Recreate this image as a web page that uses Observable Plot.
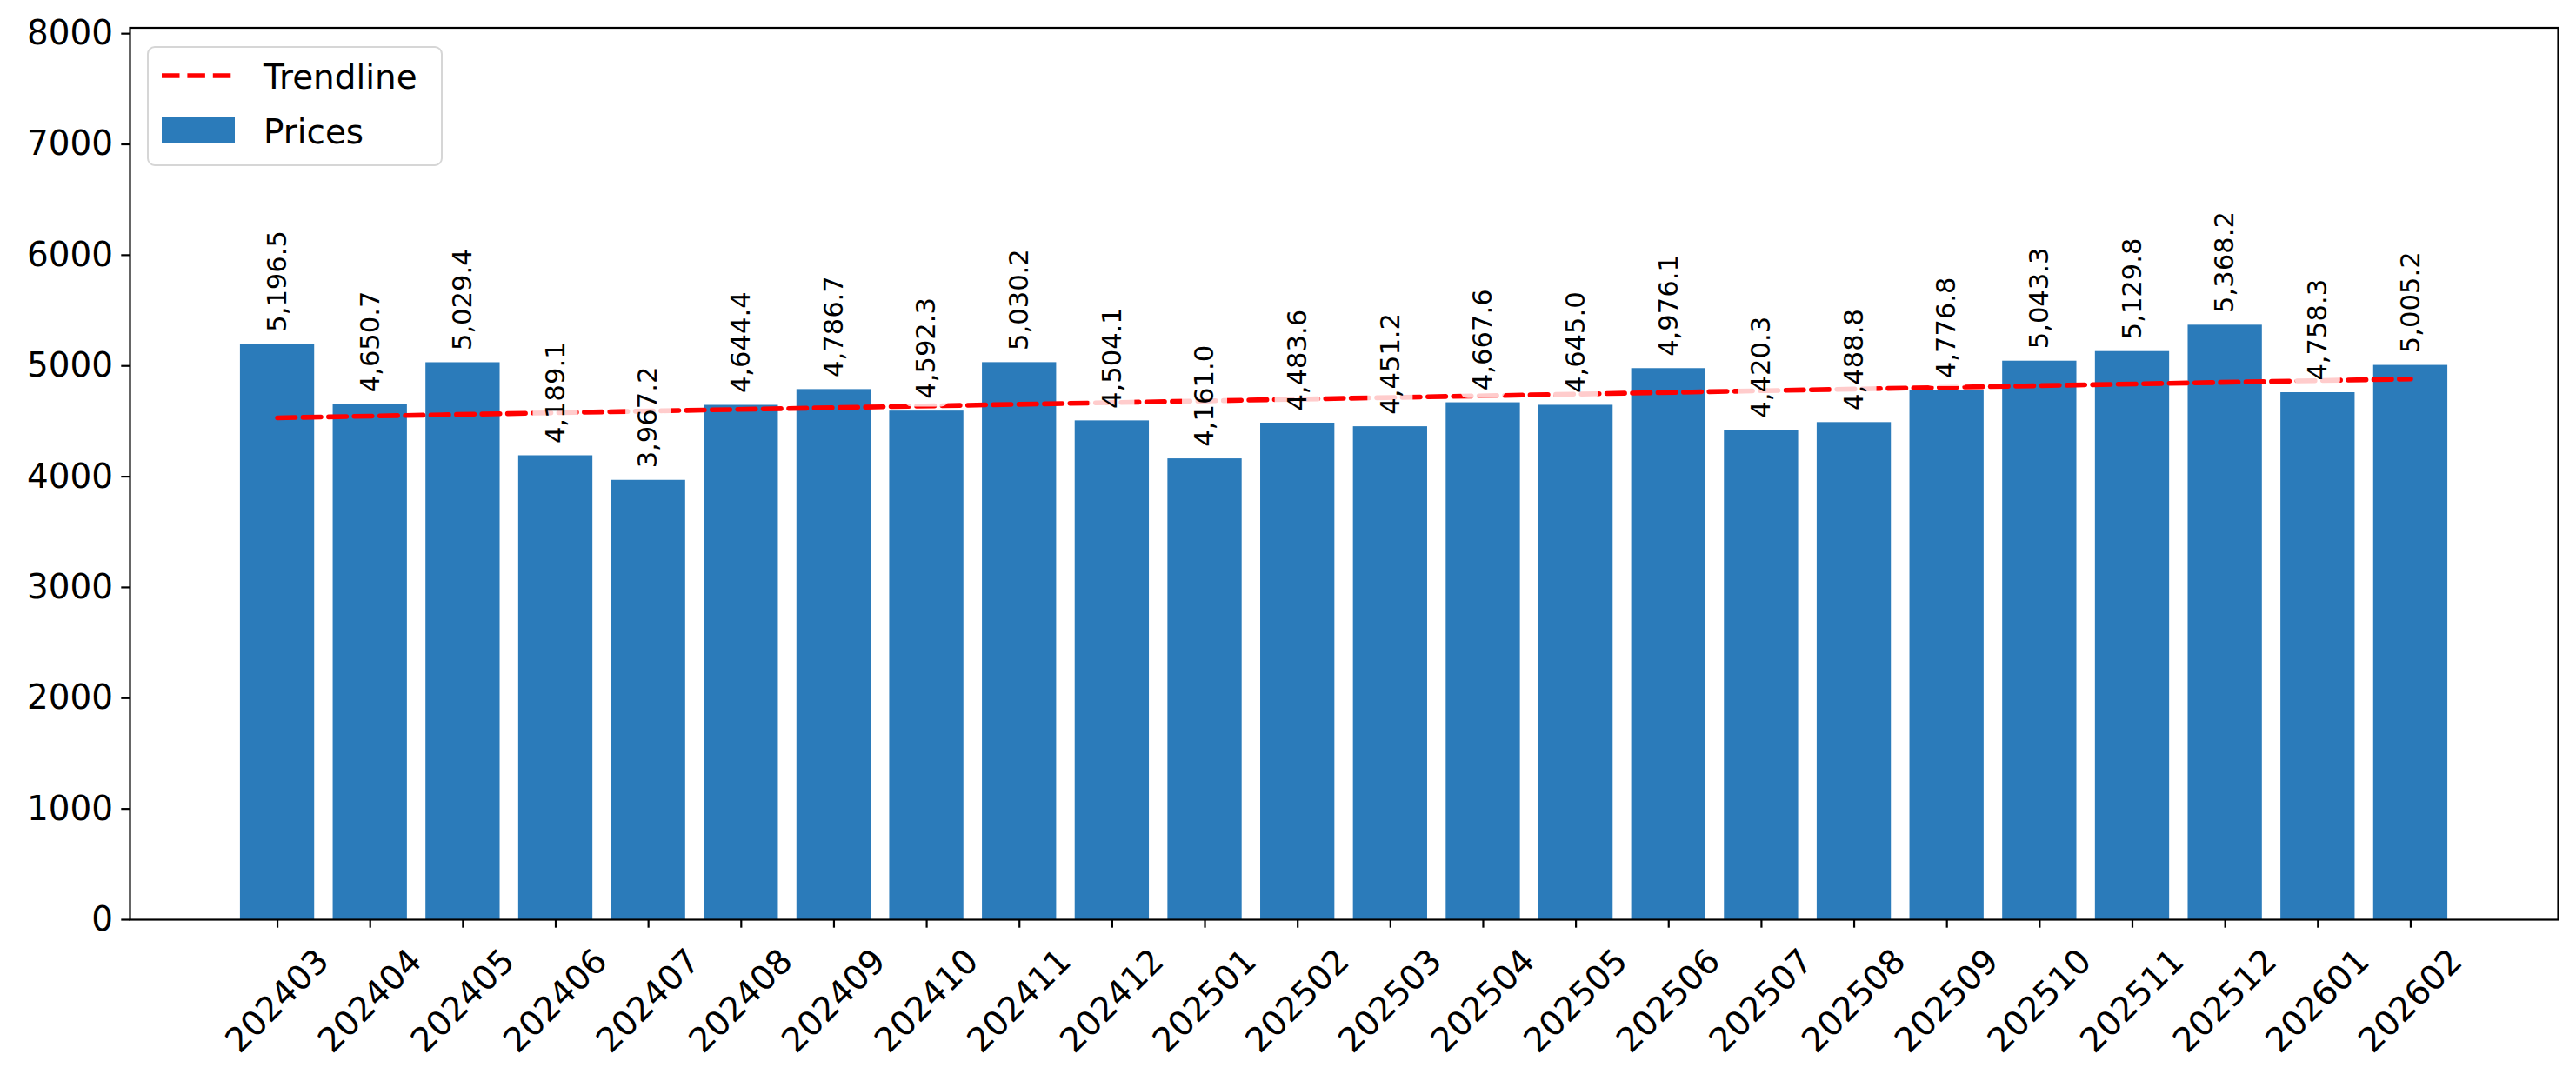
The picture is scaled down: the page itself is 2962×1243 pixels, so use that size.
<!DOCTYPE html>
<html>
<head>
<meta charset="utf-8">
<script src="https://cdn.jsdelivr.net/npm/d3@7"></script>
<script src="https://cdn.jsdelivr.net/npm/@observablehq/plot@0.6"></script>
<style>
  html, body { margin: 0; padding: 0; background: #fff; }
  #wrap { position: relative; width: 2962px; height: 1243px; font-family: "DejaVu Sans", sans-serif; }
  #legend { position: absolute; left: 169px; top: 53px; width: 336px; height: 134px;
            border: 2.2px solid #d6d6d6; border-radius: 9px; background: rgba(255,255,255,0.8); }
  #legend svg { position: absolute; left: 0; top: 0; overflow: visible; }
</style>
</head>
<body>
<div id="wrap"></div>
<script>
const months = ["202403","202404","202405","202406","202407","202408","202409","202410","202411","202412",
                "202501","202502","202503","202504","202505","202506","202507","202508","202509","202510",
                "202511","202512","202601","202602"];
const prices = [5196.5,4650.7,5029.4,4189.1,3967.2,4644.4,4786.7,4592.3,5030.2,4504.1,
                4161.0,4483.6,4451.2,4667.6,4645.0,4976.1,4420.3,4488.8,4776.8,5043.3,
                5129.8,5368.2,4758.3,5005.2];
const yTicks = [0,1000,2000,3000,4000,5000,6000,7000,8000];

const data = months.map((m, i) => ({i, month: m, value: prices[i]}));
const fmt = d3.format(",.1f");
const barColor = "#2b7bba";
const n = months.length;
const pad = (n - 1 + 0.8) * 0.05;

const chart = Plot.plot({
  width: 2962,
  height: 1243,
  marginLeft: 149,
  marginRight: 21,
  marginTop: 31.5,
  marginBottom: 186,
  style: {fontFamily: "DejaVu Sans, sans-serif", background: "#fff", color: "#000"},
  x: {type: "linear", domain: [-0.4 - pad, n - 1 + 0.4 + pad]},
  y: {domain: [0, d3.max(prices) * 1.5]},
  marks: [
    Plot.rectY(data, {x1: d => d.i - 0.4, x2: d => d.i + 0.4, y: "value", fill: barColor}),
    Plot.linearRegressionY(data, {x: "i", y: "value", ci: 0, stroke: "red", strokeWidth: 5.6, strokeDasharray: "20.5,8.9"}),
    Plot.rect(data, {x1: "i", x2: "i", y1: "value", y2: "value", fill: "white", fillOpacity: 0.8,
                     insetLeft: -26, insetRight: -26, insetTop: -142, insetBottom: 4.7, rx: 9}),
    Plot.text(data, {x: "i", y: "value", text: d => fmt(d.value), rotate: -90, textAnchor: "start",
                     lineAnchor: "middle", dy: -13.9, fontSize: 30.6, fill: "black"}),
    Plot.frame({stroke: "black", strokeWidth: 2.2}),
    Plot.axisY({ticks: yTicks, tickFormat: d3.format("d"), tickSize: 9.7, tickPadding: 9.7, fontSize: 38.9, strokeWidth: 2.2, label: null}),
    Plot.axisX({ticks: d3.range(n), tickFormat: i => months[i], tickSize: 9.7, tickPadding: 84, tickRotate: -45,
                textAnchor: "middle", lineAnchor: "middle", fontSize: 38.9, strokeWidth: 2.2, label: null})
  ]
});
const wrap = document.getElementById("wrap");
wrap.appendChild(chart);

const legend = document.createElement("div");
legend.id = "legend";
legend.innerHTML = `
<svg width="336" height="134">
  <line x1="15" x2="99" y1="32" y2="32" stroke="red" stroke-width="5.6" stroke-dasharray="20.5,8.9"/>
  <rect x="15" y="80" width="84" height="30" fill="${barColor}"/>
  <text x="132" y="47" font-size="38.9" font-family="DejaVu Sans, sans-serif" fill="#000">Trendline</text>
  <text x="132" y="110" font-size="38.9" font-family="DejaVu Sans, sans-serif" fill="#000">Prices</text>
</svg>`;
wrap.appendChild(legend);
</script>
</body>
</html>
